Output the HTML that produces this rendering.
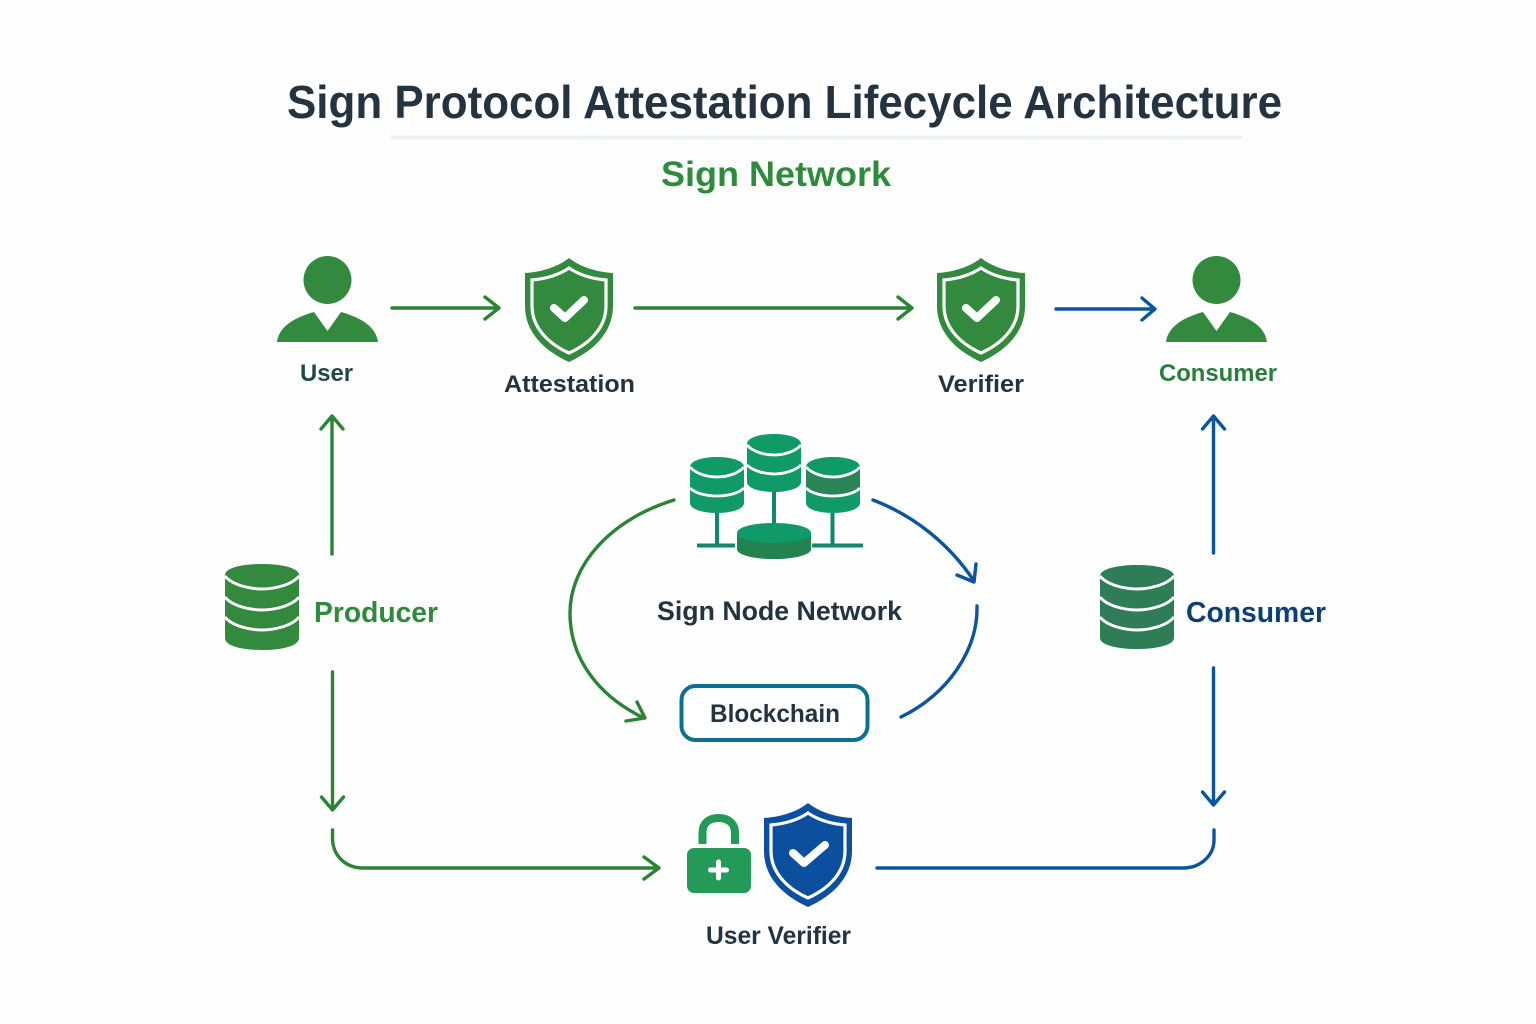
<!DOCTYPE html>
<html lang="en">
<head>
<meta charset="utf-8">
<title>Sign Protocol Attestation Lifecycle Architecture</title>
<style>
html,body{margin:0;padding:0;background:#fefefe;}
svg{display:block;}
text{font-family:"Liberation Sans",sans-serif;font-weight:700;}
.g{fill:none;stroke:#2a8434;stroke-width:3.4;stroke-linecap:round;stroke-linejoin:round;}
.b{fill:none;stroke:#0b559f;stroke-width:3.4;stroke-linecap:round;stroke-linejoin:round;}
</style>
</head>
<body>
<svg xmlns="http://www.w3.org/2000/svg" width="1536" height="1024" viewBox="0 0 1536 1024">
<rect width="1536" height="1024" fill="#fefefe"/>

<!-- Title -->
<text x="287" y="118" font-size="46" fill="#233340" textLength="995" lengthAdjust="spacingAndGlyphs">Sign Protocol Attestation Lifecycle Architecture</text>
<rect x="391" y="135.500" width="851" height="4" fill="#edf1f2"/>
<text x="661" y="186" font-size="35" fill="#2e8b3c" textLength="230" lengthAdjust="spacingAndGlyphs">Sign Network</text>

<!-- User -->
<g fill="#338a3e">
<circle cx="327.500" cy="280" r="24"/>
<path d="M277,342 C279,327 293,318 314,312 L327.500,331 L341,312 C362,318 376,327 378,342 Z"/>
</g>
<text x="300" y="381" font-size="24" fill="#1f4a45" textLength="53" lengthAdjust="spacingAndGlyphs">User</text>

<!-- Consumer person -->
<g fill="#338a3e">
<circle cx="1216.500" cy="280" r="24"/>
<path d="M1166,342 C1168,327 1182,318 1203,312 L1216.500,331 L1230,312 C1251,318 1265,327 1267,342 Z"/>
</g>
<text x="1159" y="381" font-size="24" fill="#2a7d3c" textLength="118" lengthAdjust="spacingAndGlyphs">Consumer</text>

<!-- Attestation shield -->
<g transform="translate(569,258)">
<path fill="#338a3e" d="M0,0 C10,8 26,14 44,15 L44,48 C44,75 24,93 0,104 C-24,93 -44,75 -44,48 L-44,15 C-26,14 -10,8 0,0 Z"/>
<path fill="none" stroke="#fff" stroke-width="3.200" d="M0,10 C10,17 24,21 37,22 L37,48 C37,70 20,86 0,95 C-20,86 -37,70 -37,48 L-37,22 C-24,21 -10,17 0,10 Z"/>
<path fill="none" stroke="#fff" stroke-width="8" stroke-linecap="round" stroke-linejoin="round" d="M-15,50 L-4,60 L15,42"/>
</g>
<text x="504" y="392" font-size="24" fill="#233340" textLength="131" lengthAdjust="spacingAndGlyphs">Attestation</text>

<!-- Verifier shield -->
<g transform="translate(981,258)">
<path fill="#338a3e" d="M0,0 C10,8 26,14 44,15 L44,48 C44,75 24,93 0,104 C-24,93 -44,75 -44,48 L-44,15 C-26,14 -10,8 0,0 Z"/>
<path fill="none" stroke="#fff" stroke-width="3.200" d="M0,10 C10,17 24,21 37,22 L37,48 C37,70 20,86 0,95 C-20,86 -37,70 -37,48 L-37,22 C-24,21 -10,17 0,10 Z"/>
<path fill="none" stroke="#fff" stroke-width="8" stroke-linecap="round" stroke-linejoin="round" d="M-15,50 L-4,60 L15,42"/>
</g>
<text x="938" y="392" font-size="24" fill="#233340" textLength="86" lengthAdjust="spacingAndGlyphs">Verifier</text>

<!-- Top arrows -->
<path class="g" d="M392,308 H498 M485,297 L499,308 L485,319"/>
<path class="g" d="M635,308 H911 M898,297 L912,308 L898,319"/>
<path class="b" d="M1056,309 H1154 M1142,298 L1155,309 L1142,320"/>

<!-- Vertical arrows -->
<path class="g" d="M332,554 V417 M321,429 L332,416 L343,429"/>
<path class="g" d="M332.500,672 V809 M321.500,797 L332.500,810 L343.500,797"/>
<path class="b" d="M1213.500,553 V417 M1202.500,429 L1213.500,416 L1224.500,429"/>
<path class="b" d="M1213.500,668 V804 M1202.500,792 L1213.500,805 L1224.500,792"/>

<!-- Producer DB -->
<g>
<path fill="#338a3e" d="M225,575 C225,568 242,564 262,564 C282,564 299,568 299,575 V638 C299,646 282,650 262,650 C242,650 225,646 225,638 Z"/>
<g fill="none" stroke="#fff" stroke-width="3">
<path d="M225,576 C232,585 250,589 262,589 C274,589 292,585 299,576"/>
<path d="M225,597 C232,606 250,610 262,610 C274,610 292,606 299,597"/>
<path d="M225,617 C232,626 250,630 262,630 C274,630 292,626 299,617"/>
</g>
</g>
<text x="314" y="622" font-size="29" fill="#2e8b3c" textLength="124" lengthAdjust="spacingAndGlyphs">Producer</text>

<!-- Consumer DB -->
<g>
<path fill="#2e7d57" d="M1100,576 C1100,569 1117,565 1137,565 C1157,565 1174,569 1174,576 V638 C1174,645 1157,649 1137,649 C1117,649 1100,645 1100,638 Z"/>
<g fill="none" stroke="#fff" stroke-width="3">
<path d="M1100,576 C1107,585 1125,589 1137,589 C1149,589 1167,585 1174,576"/>
<path d="M1100,597 C1107,606 1125,610 1137,610 C1149,610 1167,606 1174,597"/>
<path d="M1100,617 C1107,626 1125,630 1137,630 C1149,630 1167,626 1174,617"/>
</g>
</g>
<text x="1186" y="622" font-size="29" fill="#0e3f72" textLength="140" lengthAdjust="spacingAndGlyphs">Consumer</text>

<!-- Server network -->
<g stroke="#12876e" stroke-width="4" fill="none">
<path d="M717,513 V545 M697,545.500 H735"/>
<path d="M774,492 V525"/>
<path d="M832.500,513 V545 M812,545.500 H863"/>
</g>
<g fill="#0f9a68">
<path d="M690,467 C690,461 702,457 717,457 C732,457 744,461 744,467 V503 C744,509 732,513 717,513 C702,513 690,509 690,503 Z"/>
<path d="M747,444 C747,438 759,434 774,434 C789,434 801,438 801,444 V482 C801,488 789,492 774,492 C759,492 747,488 747,482 Z"/>
<path d="M806,467 C806,461 818,457 833,457 C848,457 860,461 860,467 V503 C860,509 848,513 833,513 C818,513 806,509 806,503 Z"/>
</g>
<path fill="#2a8455" d="M806,468 C814,473 825,477 833,477 C841,477 852,473 860,468 V490 C852,494 841,497 833,497 C825,497 814,494 806,490 Z"/>
<g fill="none" stroke="#fff" stroke-width="2.800">
<path d="M690,467 C696,474 708,477 717,477 C726,477 738,474 744,467"/>
<path d="M690,488 C696,494 708,496 717,496 C726,496 738,494 744,488"/>
<path d="M747,445 C753,452 765,455 774,455 C783,455 795,452 801,445"/>
<path d="M747,465 C753,471 765,474 774,474 C783,474 795,471 801,465"/>
<path d="M806,467 C812,474 824,477 833,477 C842,477 854,474 860,467"/>
<path d="M806,488 C812,494 824,496 833,496 C842,496 854,494 860,488"/>
</g>
<path fill="#0f9a68" d="M737,533 C737,527 754,523 774,523 C794,523 811,527 811,533 V549 C811,555 794,559 774,559 C754,559 737,555 737,549 Z"/>
<path fill="#23824f" d="M737,536 C745,541 760,543 774,543 C788,543 803,541 811,536 V549 C811,555 794,559 774,559 C754,559 737,555 737,549 Z"/>

<!-- Sign Node Network -->
<text x="657" y="620" font-size="27" fill="#233340" textLength="245" lengthAdjust="spacingAndGlyphs">Sign Node Network</text>

<!-- Blockchain -->
<rect x="681.500" y="686" width="186" height="54" rx="14" ry="14" fill="#fff" stroke="#0e6f8f" stroke-width="4"/>
<text x="710" y="722" font-size="25" fill="#233340" textLength="130" lengthAdjust="spacingAndGlyphs">Blockchain</text>

<!-- Circular arrows -->
<path class="g" d="M674,500 C610,520 570,565 570,613 C570,660 600,697 644,718 M637,702 L645,718 L626,721"/>
<path class="b" d="M873,500 C915,516 950,545 974,581 M976,564 L974,582 L957,575"/>
<path class="b" d="M977,606 C978,650 948,694 901,717"/>

<!-- Bottom connectors -->
<path class="g" d="M332.500,830 V838 C332.500,855 345,868 363,868 H658 M644,857 L659,868 L644,879"/>
<path class="b" d="M877,868 H1183 C1201,868 1214,855 1214,840 V830"/>

<!-- Lock -->
<path fill="none" stroke="#239a57" stroke-width="8" d="M702.500,844 V833 C702.500,823 709,818 718.500,818 C728,818 735,823 735,833 V844"/>
<rect x="687" y="848" width="64" height="45" rx="7" ry="7" fill="#239a57"/>
<path fill="none" stroke="#fff" stroke-width="5" stroke-linecap="round" d="M718.500,862 V878 M710.500,870 H726.500"/>

<!-- Blue shield -->
<g transform="translate(808,803)">
<path fill="#0b4f9e" d="M0,0 C10,8 26,14 44,15 L44,48 C44,75 24,93 0,104 C-24,93 -44,75 -44,48 L-44,15 C-26,14 -10,8 0,0 Z"/>
<path fill="none" stroke="#fff" stroke-width="3.200" d="M0,10 C10,17 24,21 37,22 L37,48 C37,70 20,86 0,95 C-20,86 -37,70 -37,48 L-37,22 C-24,21 -10,17 0,10 Z"/>
<path fill="none" stroke="#fff" stroke-width="8" stroke-linecap="round" stroke-linejoin="round" d="M-15,50 L-4,60 L17,42"/>
</g>
<text x="706" y="944" font-size="25" fill="#233340" textLength="145" lengthAdjust="spacingAndGlyphs">User Verifier</text>
</svg>
</body>
</html>
